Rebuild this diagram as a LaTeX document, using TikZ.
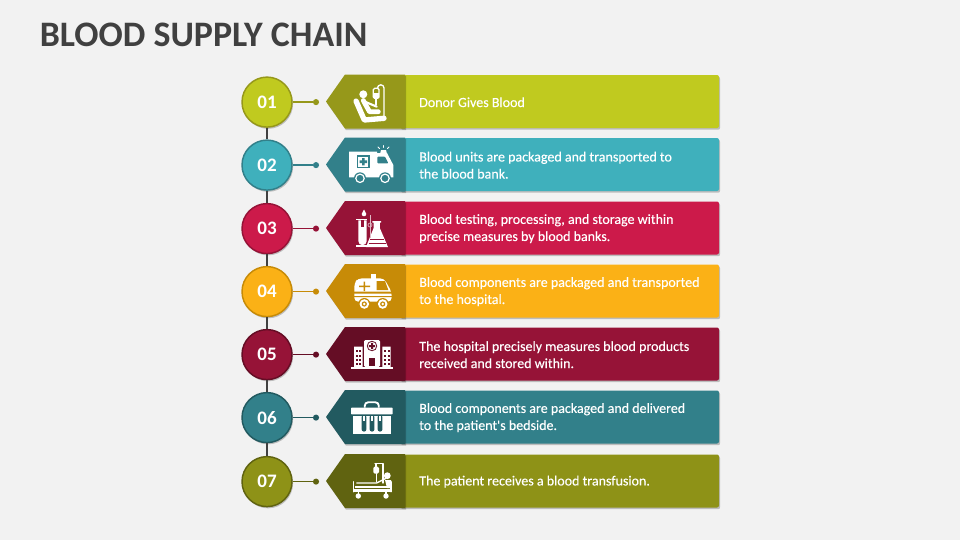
\documentclass[tikz,border=0pt]{standalone}
\usepackage{fontspec}
\setmainfont{Carlito}
\newfontfamily\rowfont[FakeBold=0.25]{Carlito}
\usetikzlibrary{shadows, positioning}
\definecolor{pagegray}{RGB}{242,242,242}
\definecolor{titlegray}{RGB}{64,64,64}
\definecolor{limelite}{RGB}{192,202,31}
\definecolor{limedark}{RGB}{150,152,26}
\definecolor{tealite}{RGB}{63,176,188}
\definecolor{teadark}{RGB}{50,128,138}
\definecolor{redlite}{RGB}{204,26,74}
\definecolor{reddark}{RGB}{150,19,55}
\definecolor{amberlite}{RGB}{251,177,22}
\definecolor{amberdark}{RGB}{199,139,7}
\definecolor{winelite}{RGB}{150,19,55}
\definecolor{winedark}{RGB}{101,13,37}
\definecolor{pinelite}{RGB}{50,128,138}
\definecolor{pinedark}{RGB}{34,90,96}
\definecolor{olivelite}{RGB}{142,146,23}
\definecolor{olivedark}{RGB}{96,99,16}

\begin{document}
\begin{tikzpicture}[
    x=0.75pt, y=-0.75pt,
    softshadow/.style={drop shadow={shadow xshift=0.8pt, shadow yshift=-1.3pt, opacity=0.22, fill=black}},
    numdot/.style={circle, minimum size=37.5pt, inner sep=0pt, line width=1.1pt, softshadow,
      text=white, font=\fontsize{14.3}{15}\selectfont\bfseries},
    enddot/.style={circle, minimum size=4.6pt, inner sep=0pt},
    rowtext/.style={anchor=west, align=left, text=white, inner sep=0pt,
      font=\rowfont\fontsize{10.5}{12.8}\selectfont},
    ico/.style={white, line cap=round, line join=round}
  ]
    \useasboundingbox (0,0) rectangle (960,540);
    \fill[pagegray] (0,0) rectangle (960,540);
    \node[anchor=west, inner sep=0pt, text=titlegray, font=\fontsize{26.9}{30}\selectfont\bfseries] (title) at (39.5,34.5) {BLOOD SUPPLY CHAIN};

    % rows
    \foreach \i/\y/\lite/\dark/\txt in {
      1/101.5/limelite/limedark/{Donor Gives Blood},
      2/164.5/tealite/teadark/{Blood units are packaged and transported to\\the blood bank.},
      3/228/redlite/reddark/{Blood testing, processing, and storage within\\precise measures by blood banks.},
      4/291/amberlite/amberdark/{Blood components are packaged and transported\\to the hospital.},
      5/354/winelite/winedark/{The hospital precisely measures blood products\\received and stored within.},
      6/417/pinelite/pinedark/{Blood components are packaged and delivered\\to the patient's bedside.},
      7/481/olivelite/olivedark/{The patient receives a blood transfusion.}} {
      \fill[\lite, rounded corners=1.5pt, softshadow] (400,\y-26.5) rectangle (719,\y+26.5);
      \fill[\dark, softshadow] (326,\y) -- (345,\y-27) -- (405,\y-27) -- (405,\y+27) -- (345,\y+27) -- cycle;
      \node[rowtext] (txt\i) at (419,\y+0.7) {\txt};
      \node[numdot, fill=\lite, draw=\dark] (num\i) at (267,\y+0.6) {0\i};
      \node[enddot, fill=\dark] (end\i) at (316,\y+0.6) {};
      \draw[\dark, line width=1.2pt] (num\i) -- (end\i);
    }
    \foreach \i/\j in {1/2,2/3,3/4,4/5,5/6,6/7} {
      \draw[titlegray, line width=1.2pt] (num\i) -- (num\j);
    }

    % chair and drip
    \draw[ico, line width=4pt] (356,101) -- (364.3,120) -- (384,118.3);
    \draw[ico, line width=3.6pt] (363.3,100.5) -- (369.5,111.7) -- (378.3,111.7);
    \draw[ico, line width=1.6pt] (365,101.7) -- (376.7,106.7);
    \fill[white] (363.3,94.3) circle (4);
    \draw[ico, line width=1pt] (384,117) -- (384,88) arc[start angle=0, end angle=-180, radius=3.2] -- (377.6,87);
    \draw[ico, line width=1pt, rounded corners=1pt] (373.3,88.3) rectangle (379,98.3);
    \fill[white] (373.6,93) rectangle (378.7,98);
    \draw[ico, line width=0.8pt] (376,98.3) -- (376,105);

    % ambulance
    \fill[white] (349,151.5) -- (377,151.5) -- (377,153) -- (387,153) -- (393.3,165) -- (393.3,177.3) -- (349,177.3) -- cycle;
    \fill[teadark, rounded corners=0.6pt] (377.3,156.7) -- (385,156.7) -- (388.3,163.3) -- (377.3,163.3) -- cycle;
    \draw[teadark, line width=0.8pt] (357.6,156) rectangle (369,167.4);
    \fill[teadark] (362,158) rectangle (364.6,165.4) (359.6,160.4) rectangle (367,163);
    \foreach \wx in {360,385} {
      \fill[teadark] (\wx,178.3) circle (6);
      \draw[white, line width=0.9pt] (\wx,178.3) circle (4.2);
    }
    \fill[white] (380,154) -- (381,150) -- (386,150) -- (387,154) -- cycle;
    \draw[ico, line width=0.7pt] (383.5,147.5) -- (383.5,145.5) (379.5,148.5) -- (378,147) (387.5,148.5) -- (389,147);

    % test tube and flask
    \fill[white] (364,209.5) -- (366.3,214) arc[start angle=0, end angle=180, radius=2.3] -- cycle;
    \fill[white] (356.3,218.5) rectangle (367.3,220.3);
    \fill[white] (358.3,220.3) -- (366.7,220.3) -- (366.7,241) arc[start angle=0, end angle=180, radius=4.2] -- cycle;
    \fill[reddark] (360.8,220.3) rectangle (364.2,227);
    \fill[white] (356.3,245.3) rectangle (366.7,247);
    \fill[white] (372.3,221) -- (381,221) -- (381,222.6) -- (379.8,222.6) -- (379.8,228) -- (388,247) -- (366,247) -- (373.6,228) -- (373.6,222.6) -- (372.3,222.6) -- cycle;
    \draw[reddark, line width=0.5pt] (370,239) -- (384,239) (368.5,243) -- (385.5,243);
    \draw[white!70!reddark, line width=0.5pt] (370,215) -- (370,238);
    \draw[white!70!reddark, line width=0.5pt] (370,225) circle (2);

    % second ambulance
    \fill[white, rounded corners=3pt] (354.3,301.7) -- (354.3,283) -- (358,278.3) -- (384,278.3) -- (391.7,292) -- (391.7,301.7) -- cycle;
    \fill[white] (371,274) rectangle (376,279);
    \fill[amberdark] (376.7,281) -- (385,281) -- (388.3,290) -- (376.7,290) -- cycle;
    \fill[amberdark] (354,291.7) rectangle (392,293.5) (354,296) rectangle (392,297);
    \fill[amberdark] (363.6,281.5) rectangle (365,291) (359,285.5) rectangle (370,287);
    \foreach \wx in {364.3,382.7} {
      \fill[amberdark] (\wx,304) circle (6);
      \fill[white] (\wx,304) circle (4.8);
      \fill[amberdark] (\wx,304) circle (2.6);
      \fill[white] (\wx,304) circle (1.4);
    }

    % hospital
    \fill[white] (351,366.7) rectangle (392.7,369);
    \fill[white, rounded corners=1pt] (364,340) rectangle (380,367);
    \fill[white] (354,346.7) rectangle (362.7,367) (382.3,346.7) rectangle (390.7,367);
    \fill[winedark] (372,346) circle (5.2);
    \fill[white] (372,346) circle (4.2);
    \fill[winedark] (371,342.8) rectangle (373,349.2) (368.8,345) rectangle (375.2,347);
    \fill[winedark] (369,357.7) rectangle (375,366);
    \foreach \wx in {355.8,359.4,384,387.6} {
      \foreach \wy in {350,354.5,359,363} {
        \fill[winedark] (\wx,\wy) rectangle ++(1.9,2.4);
      }
    }

    % blood box
    \draw[white, line width=1.4pt, rounded corners=2.5pt] (364.8,407.5) -- (364.8,402.3) -- (378.8,402.3) -- (378.8,407.5);
    \fill[white, rounded corners=0.5pt] (351,407.7) rectangle (392.7,414.3);
    \fill[white] (352.7,416) rectangle (390.7,433.5);
    \foreach \wx in {364,372,380} {
      \fill[pinedark, rounded corners=1.6pt] (\wx-2.4,415) rectangle (\wx+2.4,431.5);
      \fill[white] (\wx-1,415.5) rectangle (\wx+1,421);
    }

    % bed and drip
    \fill[white] (387.3,475.7) circle (3.4);
    \draw[ico, line width=1pt] (375,463.5) -- (383,463.5) -- (383,483);
    \draw[ico, line width=0.8pt] (376,463.5) -- (376,467);
    \fill[white, rounded corners=1pt] (373.3,466.7) rectangle (379,473.5);
    \draw[ico, line width=0.6pt] (376.5,473.5) -- (376.5,482);
    \draw[ico, line width=1pt] (353.3,481.7) -- (353.3,491.7) (391,481.7) -- (391,491.7);
    \draw[ico, line width=1pt] (356.7,483) -- (376.7,483) -- (385.5,478.5);
    \fill[white] (355,485.5) rectangle (387,487.8);
    \fill[white] (385,480) -- (391,480) -- (391,488) -- (387,488) -- cycle;
    \fill[white] (354,489) rectangle (391,491.7);
    \draw[ico, line width=0.9pt] (358.3,491) -- (358.3,494) (386,491) -- (386,494);
    \fill[white] (358.3,496) circle (2.7) (386,496) circle (2.7);
  \end{tikzpicture}
\end{document}
